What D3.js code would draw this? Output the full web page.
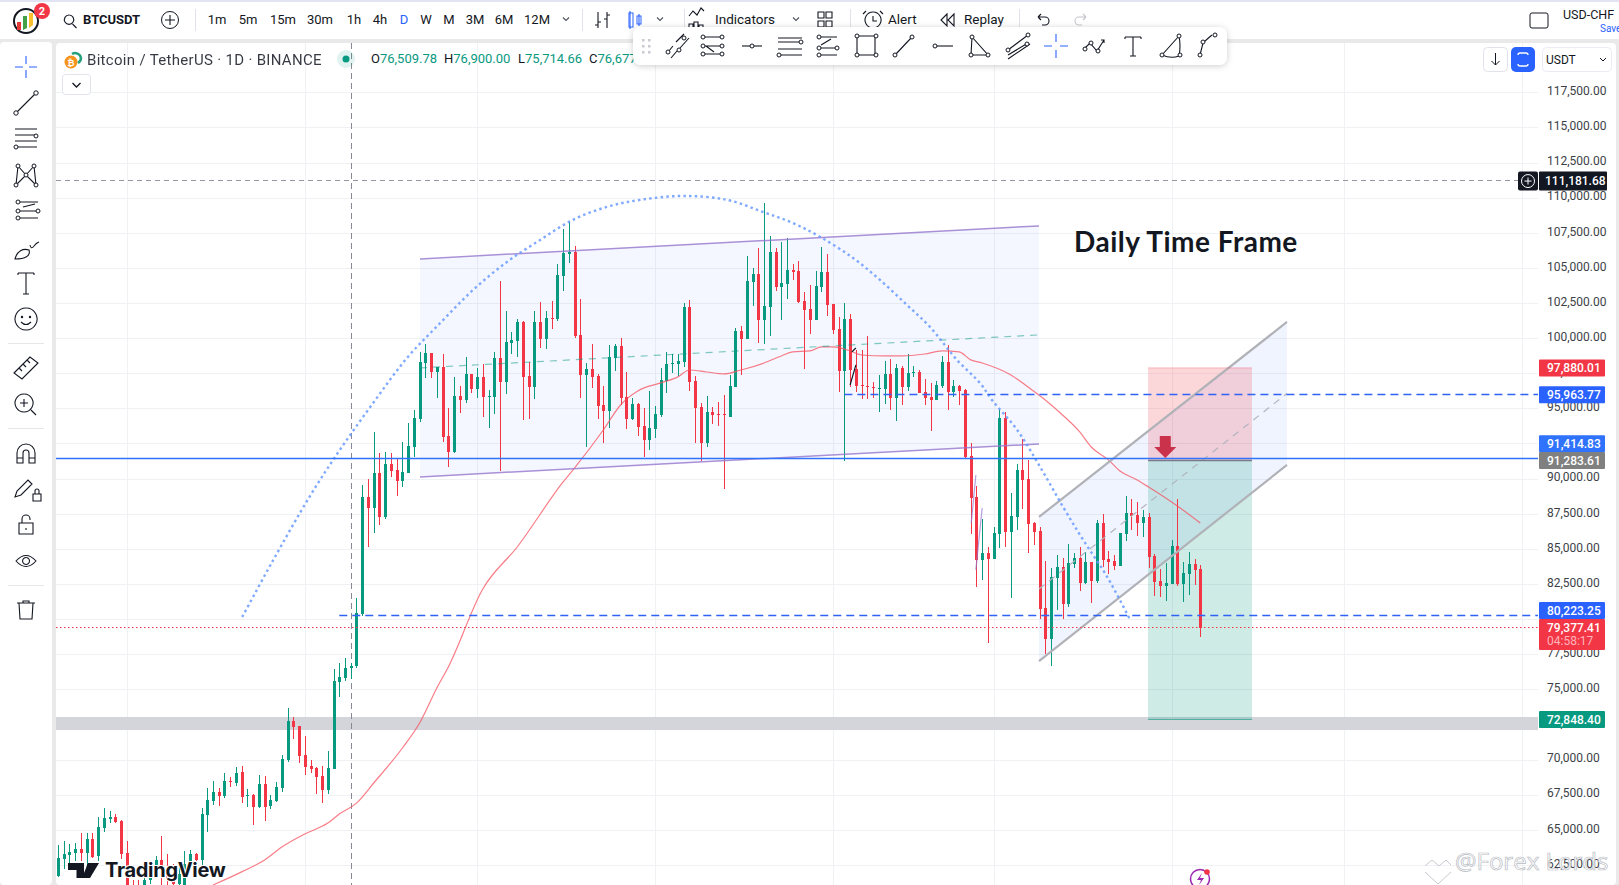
<!DOCTYPE html>
<html>
<head>
<meta charset="utf-8">
<script src="https://cdn.jsdelivr.net/npm/d3@7/dist/d3.min.js"></script>
<style>
html, body { margin: 0; padding: 0; background: #fff; overflow: hidden; }
text { font-family: Roboto, "Open Sans", sans-serif; }
</style>
</head>
<body>
<svg id="chart" width="1619" height="885"></svg>
<script>
// daily candles, bar 0 is 19 Sep 2024
var opens = [61710,62920,63200,63340,63630,63340,64340,63130,65120,65770,
65910,65620,63340,60500,60570,60570,61420,62130,62840,62280,
61570,61140,61070,62560,63270,62840,66050,67050,67690,67400,
68470,68330,69110,67400,67470,66620,68260,66690,67050,67970,
69970,72740,72390,70320,69540,69400,68830,67830,69320,75520,
75800,76510,76660,80360,88690,87910,90400,87270,91040,90610,
89830,90400,92250,94240,98230,98950,97590,97950,93030,91890,
95880,95600,97450,96380,97240,95810,95810,98590,96880,99660,
99800,101150,97310,96520,101150,99940,101440,101370,104430,105990,
106140,100220,97380,97810,97310,95240,94820,98590,99440,95810,
94240,95310,93750,92750,93530,94530,96950,98160,98160,98300,
102220,96950,95100,92540,94740,94600,94600,94390,96520,100510,
99940,104000,104570,101290,102220,106140,103640,103860,104850,104780,
102650,102080,101290,103640,104710,102430,100650,97660,101370,97810,
96670,96600,96520,96380,96380,97450,95740,97880,96520,97520,
97590,96170,95810,95600,96600,98300,96170,96600,96310,91610,
88690,84210,84710,84280,86060,94320,86200,87270,90610,89970,
86840,86270,80790,78580,82920,83710,81070,83920,84350,82570,
84060,82710,86840,84280,84130,83780,86060,87550,87410,86840,
87270,84490,82710,82350,82500,85200,82500,83210,83920,83570];
var highs = [63910,64200,63990,64060,64770,64770,64770,65910,66550,66340,
66120,65690,64200,61420,61420,61780,62420,63130,64560,63270,
62560,62280,63490,63560,63340,66550,67970,68470,67970,69040,
68750,69470,69540,67900,67540,68900,68830,67470,68400,70320,
73670,73030,72390,71680,69970,69470,69540,70610,76450,76870,
77230,76900,81500,89550,89970,93320,91820,91890,91820,91470,
92610,93960,94890,99020,99590,98950,97950,98870,95030,97240,
96600,98660,97450,97880,98160,96310,99020,104070,101930,100440,
101370,101220,98300,101930,102580,101930,102650,105280,107770,108340,
106560,102790,98230,99590,97450,96600,99510,99590,100010,97590,
95740,95380,95030,96240,95170,97880,99020,98870,98870,102500,
102720,97310,95380,95880,95100,95460,95950,97380,100720,100870,
105850,105000,106420,109630,107280,106420,106850,107130,105280,105500,
103290,103790,104780,106490,105990,102430,101510,102500,101720,99160,
99160,100150,96880,97380,98380,98520,98160,98020,98870,98020,
97730,97090,96810,96950,98730,99510,97020,96670,96380,92540,
89480,87130,85130,86560,94960,94740,88980,91040,92820,91330,
86910,86560,84130,83640,84560,84350,85350,84710,85130,84780,
84060,87050,87480,84850,84560,86130,88760,88550,88340,87770,
87550,84630,83570,83990,85630,88550,84060,84780,84280,83850];
var lows = [61640,62200,62490,62770,62770,62490,62990,62770,64840,65480,
65480,62920,59640,59640,59640,60000,61140,61990,61070,61070,
60710,60850,60710,62130,62770,62490,64840,66760,66690,67260,
68040,68110,66900,66620,65340,66550,65620,66480,66980,67690,
69820,71460,69750,68900,69040,67540,66900,67540,69320,74450,
75590,75715,76520,80220,85130,86130,86700,87130,90120,88760,
89400,90400,91540,94030,97160,97160,95740,92610,90830,91820,
94670,95380,96100,95740,94390,93600,94600,90540,96030,98870,
98660,94170,94240,95670,99300,99230,100650,101220,103360,105350,
100010,95740,92250,96450,94240,92540,93600,97660,95240,93530,
94170,93030,91540,92040,92890,94390,96100,97520,97310,97950,
96240,92540,91260,92250,93890,93750,89260,94390,96520,97380,
99940,102290,99660,99590,100150,103360,101290,102790,104140,102500,
97810,100300,101290,103290,101580,100300,96170,91260,96520,96170,
95670,95670,95740,94740,95310,94890,94100,95240,96240,97240,
96100,95240,93390,95600,96450,94890,95810,95240,91400,86060,
82280,82780,78300,84280,85060,85130,81500,86340,87840,84710,
85280,80010,77520,76660,80650,80010,80860,83640,82000,82500,
81150,82570,83710,83210,83490,83780,85560,86340,85920,85850,
83640,81640,81570,81290,82500,82350,81220,81710,82430,78720];
var closes = [62990,63270,63410,63630,63340,64340,63060,65200,65840,65910,
65550,63270,60500,60210,60280,61420,62130,62840,62130,61570,
61140,61850,62560,63270,62840,66120,67120,67690,67400,68470,
68400,69040,67330,67470,66620,68260,66620,67120,68040,70040,
72740,72310,70250,69470,69320,68750,67830,69400,75590,75880,
76520,76677,80430,88690,87910,90400,87270,91040,90540,89830,
90470,92320,94320,98300,98950,97590,97950,92960,91890,95880,
95600,97450,96380,97240,95810,95880,98590,96880,99730,99870,
101150,97240,96520,101150,99940,101440,101370,104500,106070,106140,
100150,97380,97810,97240,95170,94820,98660,99440,95740,94240,
95310,93670,92750,93600,94600,97020,98160,98230,98380,102220,
96880,95030,92540,94740,94530,94530,94530,96600,100510,99940,
104070,104570,101290,102290,106140,103640,103930,104850,104710,102580,
102010,101290,103720,104710,102360,100580,97660,101370,97730,96600,
96600,96520,96450,96450,97450,95740,97880,96520,97520,97590,
96100,95740,95600,96670,98300,96170,96600,96240,91540,88620,
84210,84710,84280,86130,94320,86200,87340,90610,89900,86770,
86200,80720,78580,82990,83710,81070,83990,84350,82570,84060,
82710,86840,84210,84060,83780,86130,87550,87340,86840,87270,
84420,82640,82350,82570,85200,82500,83280,83920,83490,79377];

// moving average, sampled where it bends
var maBars = [27,32,36,39,43,47,49,52,55,60,63,66,68,74,80,88,90,95,98,101,105,108,110,113,116,119,123,126,128,131,133,135,138,140,144,147,151,154,157,159,161,166,169,172,175,178,180,183,185,188,190,195,199];
var maValues = [61070,62000,62850,63770,64700,65480,66120,66900,68330,70820,72600,75090,76590,82140,85130,89760,90760,93460,95240,96240,96810,97240,97730,97590,97450,97730,98230,98730,99020,99090,99370,99370,99090,98800,98730,98730,98870,99090,99020,98450,98230,97380,96520,95600,94530,93320,92250,91330,90540,89900,89400,88050,86840];

// dotted arc
var arcBars = [32.1,37.3,43.9,49.1,54.9,60.8,66.6,72.3,78.2,84,89.7,95.6,101.4,108.9,116.6,122.8,128,132.8,138.5,143.2,147.9,151.9,156.6,160.6,162.7,167.1,171.1,175.1,178.6,182.8,186.8];
var arcPrices = [80150,84060,88760,92040,95380,98590,101080,103430,105420,106990,108420,109340,109840,110120,109840,108980,108200,107200,105710,104140,102360,100800,98450,96810,95600,93460,90830,87980,85630,82990,79930];

var priceTicks = d3.range(62500, 117501, 2500);
var monthBars = [12,43,73,104,135,163,194,224,255];

// channels, [bar, price, bar, price]
var purpleTop = [63.07,105640,170.9,107990];
var purpleMid = [63.07,97880,170.9,100230];
var purpleBottom = [63.07,90120,170.9,92465];
var grayTop = [170.9,87270,214.1,101150];
var grayMid = [170.9,82140,214.1,96060];
var grayBottom = [170.9,77010,214.1,90970];
var blackBits = [[138.3,99020,139,99300],[138,96670,139,98090]];
var purpleBits = [[159.9,90260,159.1,86840],[161,87910,159.9,83500]];

// short position tool
var posBars = [189.9,208];
var posEntry = 91283.61, posStop = 97880.01, posTarget = 72848.40;
var zonePrices = [73030,72100];
var crossBar = 51;

var priceTags = [
  {t:"97,880.01", p:97880.01, c:"#f23645"},
  {t:"95,963.77", p:95963.77, c:"#2962ff"},
  {t:"91,414.83", p:91414.83, c:"#2f72fb", dy:-15},
  {t:"91,283.61", p:91283.61, c:"#808080"},
  {t:"80,223.25", p:80223.25, c:"#2962ff", dy:-5.5},
  {t:"72,848.40", p:72848.40, c:"#089981"}
];

var green = "#089981", red = "#f23645", blue = "#2962ff", ink = "#131722";
var svg = d3.select("#chart");
var x = d3.scaleLinear().domain([0,199]).range([58,1200.3]);
var y = d3.scaleLinear().domain([75000,117500]).range([689.3,92.3]);
var fmt = d3.format(",.2f");

svg.append("rect").attr("width",1619).attr("height",885).attr("fill","#e9e9ea");
svg.append("rect").attr("width",1619).attr("height",2).attr("fill","#e3e4f3");
svg.append("rect").attr("y",2).attr("width",1619).attr("height",37).attr("fill","#fff");
svg.append("rect").attr("y",42).attr("width",52).attr("height",843).attr("rx",4).attr("fill","#fff");
svg.append("rect").attr("x",56).attr("y",43).attr("width",1560).attr("height",842).attr("rx",4).attr("fill","#fff");

svg.append("defs").append("clipPath").attr("id","pane")
  .append("rect").attr("x",56).attr("y",43).attr("width",1482).attr("height",842);
var pane = svg.append("g").attr("clip-path","url(#pane)");

// grid
pane.selectAll(".hg").data(priceTicks).enter().append("line")
  .attr("x1",56).attr("x2",1538)
  .attr("y1",function(d){return Math.round(y(d))+0.5;}).attr("y2",function(d){return Math.round(y(d))+0.5;})
  .attr("stroke","#f0f1f4");
pane.selectAll(".vg").data(monthBars).enter().append("line")
  .attr("y1",43).attr("y2",885)
  .attr("x1",function(d){return Math.round(x(d))+0.5;}).attr("x2",function(d){return Math.round(x(d))+0.5;})
  .attr("stroke","#f0f1f4");

function hline(p, from, color, dash, w) {
  pane.append("line").attr("x1",from === null ? 56 : x(from)).attr("x2",1538)
    .attr("y1",Math.round(y(p))-0.5).attr("y2",Math.round(y(p))-0.5)
    .attr("stroke",color).attr("stroke-width",w||1).attr("stroke-dasharray",dash);
}
function channelFill(a, b, color, op) {
  var pts = [[x(a[0]),y(a[1])],[x(a[2]),y(a[3])],[x(b[2]),y(b[3])],[x(b[0]),y(b[1])]];
  pane.append("polygon").attr("points",pts.join(" ")).attr("fill",color).attr("fill-opacity",op);
}
function seg(s, color, w, dash, op) {
  pane.append("line").attr("x1",x(s[0])).attr("y1",y(s[1])).attr("x2",x(s[2])).attr("y2",y(s[3]))
    .attr("stroke",color).attr("stroke-width",w).attr("stroke-dasharray",dash||null).attr("stroke-opacity",op||1);
}

// fills go under the candles
channelFill(purpleTop,purpleBottom,blue,0.05);
channelFill(grayTop,grayBottom,blue,0.07);
pane.append("rect").attr("x",56).attr("width",1482)
  .attr("y",y(zonePrices[0])).attr("height",y(zonePrices[1])-y(zonePrices[0]))
  .attr("fill","#d3d5da");
pane.append("rect").attr("x",x(posBars[0])).attr("width",x(posBars[1])-x(posBars[0]))
  .attr("y",y(posStop)).attr("height",y(posEntry)-y(posStop)).attr("fill",red).attr("fill-opacity",0.2);
pane.append("rect").attr("x",x(posBars[0])).attr("width",x(posBars[1])-x(posBars[0]))
  .attr("y",y(posEntry)).attr("height",y(posTarget)-y(posEntry)).attr("fill",green).attr("fill-opacity",0.2);

// crosshair
pane.append("line").attr("x1",Math.round(x(crossBar))+0.5).attr("x2",Math.round(x(crossBar))+0.5)
  .attr("y1",43).attr("y2",885).attr("stroke","#868993").attr("stroke-dasharray","6 4");

// candles
var candles = pane.append("g").selectAll("g").data(d3.range(opens.length)).enter().append("g")
  .attr("fill",function(i){return closes[i] >= opens[i] ? green : red;})
  .attr("shape-rendering","crispEdges");
candles.append("rect")
  .attr("x",function(i){return Math.round(x(i));}).attr("width",1)
  .attr("y",function(i){return y(highs[i]);})
  .attr("height",function(i){return y(lows[i])-y(highs[i]);});
candles.append("rect")
  .attr("x",function(i){return Math.round(x(i))-1;}).attr("width",3)
  .attr("y",function(i){return y(Math.max(opens[i],closes[i]));})
  .attr("height",function(i){return Math.max(1,Math.abs(y(opens[i])-y(closes[i])));});

// moving average
pane.append("path").attr("fill","none").attr("stroke","#f7525f").attr("stroke-opacity",0.75).attr("stroke-width",1.2)
  .attr("d",d3.line().x(function(d){return x(d);}).y(function(d,i){return y(maValues[i]);}).curve(d3.curveMonotoneX)(maBars));

// channels
seg(purpleTop,"#9575cd",1.5,null,0.8);
seg(purpleBottom,"#9575cd",1.5,null,0.8);
seg(purpleMid,green,1.2,"7 6",0.5);
seg(grayTop,"#b0b2b8",2.2);
seg(grayBottom,"#b0b2b8",2.2);
seg(grayMid,"#b2b5be",1.2,"7 6");
blackBits.forEach(function(s){seg(s,ink,1.2);});
purpleBits.forEach(function(s){seg(s,"#9575cd",1.2,null,0.7);});

// arc
pane.append("path").attr("fill","none").attr("stroke","#6a9bff").attr("stroke-opacity",0.85).attr("stroke-width",2.4)
  .attr("stroke-dasharray","2.5 3.2")
  .attr("d",d3.line().x(function(d){return x(d);}).y(function(d,i){return y(arcPrices[i]);}).curve(d3.curveCatmullRom)(arcBars));

// horizontal levels
hline(111181.68,null,"#9598a1","5 4");
hline(91414.83,null,"#2f72fb",null,1.4);
hline(95963.77,137,"#2f62f5","8 5",1.4);
hline(80223.25,49,"#2f62f5","8 5",1.4);
hline(79377.41,null,red,"1.5 2.5");

// position tool lines and arrow
pane.append("line").attr("x1",x(posBars[0])).attr("x2",x(posBars[1]))
  .attr("y1",y(posEntry)).attr("y2",y(posEntry)).attr("stroke","#787b86").attr("stroke-width",1.5);
pane.append("line").attr("x1",x(posBars[0])).attr("x2",x(posBars[1]))
  .attr("y1",y(posStop)).attr("y2",y(posStop)).attr("stroke",red).attr("stroke-opacity",0.3);
pane.append("line").attr("x1",x(posBars[0])).attr("x2",x(posBars[1]))
  .attr("y1",y(posTarget)).attr("y2",y(posTarget)).attr("stroke",green).attr("stroke-opacity",0.6);
var ax = x(192.9), ay = y(posEntry)-2.5;
pane.append("path").attr("fill","#c9324a")
  .attr("d","M"+ax+","+ay+"l-11,-11h5.5v-11h11v11h5.5z");

// headline
svg.append("text").attr("x",1074).attr("y",252).attr("fill",ink)
  .attr("font-size",28).attr("font-weight",700).style("font-family","Lato").style("letter-spacing","0.5px")
  .text("Daily Time Frame");

// price axis
var axis = svg.append("g").attr("transform","translate(1547,-1.5)")
  .call(d3.axisRight(y).tickValues(priceTicks).tickSize(0).tickPadding(0).tickFormat(fmt));
axis.select(".domain").remove();
axis.selectAll("text").attr("fill","#3c3f48").attr("font-size",12).style("font-family","Roboto");

function tag(t, yc, color, h) {
  h = h || 17;
  svg.append("rect").attr("x",1539).attr("y",yc-h/2).attr("width",66).attr("height",h).attr("rx",1).attr("fill",color);
  svg.append("text").attr("x",1547).attr("y",yc+4.3).attr("fill","#fff").attr("font-size",12).attr("font-weight",500).text(t);
}
priceTags.forEach(function(d){ tag(d.t,y(d.p)+(d.dy||0),d.c); });

// last price tag has the countdown under it
var lastY = 619;
svg.append("rect").attr("x",1539).attr("y",lastY).attr("width",66).attr("height",31).attr("rx",1).attr("fill",red);
svg.append("text").attr("x",1547).attr("y",lastY+12.5).attr("fill","#fff").attr("font-size",12).attr("font-weight",500).text("79,377.41");
svg.append("text").attr("x",1547).attr("y",lastY+26).attr("fill","#ffb3ba").attr("font-size",12).text("04:58:17");

// crosshair price tag with the plus button
var cy = y(111181.68);
svg.append("rect").attr("x",1518).attr("y",cy-9.5).attr("width",20).attr("height",19).attr("rx",2).attr("fill",ink);
svg.append("circle").attr("cx",1528).attr("cy",cy).attr("r",6.5).attr("fill","none").attr("stroke","#fff");
svg.append("path").attr("d","M1524.5,"+cy+"h7M1528,"+(cy-3.5)+"v7").attr("stroke","#fff");
svg.append("rect").attr("x",1539).attr("y",cy-9.5).attr("width",68).attr("height",19).attr("rx",1).attr("fill",ink);
svg.append("text").attr("x",1545).attr("y",cy+4.3).attr("fill","#fff").attr("font-size",12).attr("font-weight",500).text("111,181.68");

// legend line
svg.append("circle").attr("cx",71).attr("cy",62).attr("r",6.5).attr("fill","#f7931a");
svg.append("text").attr("x",71).attr("y",65.5).attr("text-anchor","middle").attr("fill","#fff").attr("font-size",9).attr("font-weight",700).text("\u20bf");
svg.append("path").attr("d","M72,54a6,6 0 0 1 9,4a6,6 0 0 1 -3,5").attr("fill","none").attr("stroke","#26a17b").attr("stroke-width",2.5);
svg.append("text").attr("x",87).attr("y",65).attr("fill",ink).attr("font-size",15).attr("opacity",0.85).style("letter-spacing","0.31px").text("Bitcoin / TetherUS \u00b7 1D \u00b7 BINANCE");
svg.append("circle").attr("cx",346).attr("cy",59).attr("r",9).attr("fill",green).attr("fill-opacity",0.12);
svg.append("circle").attr("cx",346).attr("cy",59).attr("r",3.5).attr("fill",green);
var legendX = [371,444,518,589], legendKeys = ["O","H","L","C"], legendVals = ["76,509.78","76,900.00","75,714.66","76,677"];
legendKeys.forEach(function(k,i){
  var t = svg.append("text").attr("x",legendX[i]).attr("y",63).attr("font-size",13);
  t.append("tspan").attr("fill",ink).text(k);
  t.append("tspan").attr("fill",green).text(legendVals[i]);
});
svg.append("rect").attr("x",62.5).attr("y",74.5).attr("width",28).attr("height",20).attr("rx",3).attr("fill","#fff").attr("stroke","#e0e3eb");
svg.append("path").attr("d","M72.5,83l4,4l4,-4").attr("fill","none").attr("stroke",ink).attr("stroke-width",1.3);

// right side controls
svg.append("rect").attr("x",1483.5).attr("y",47.5).attr("width",24).attr("height",24).attr("rx",4).attr("fill","#fff").attr("stroke","#e0e3eb");
svg.append("path").attr("d","M1495.5,53v12M1491.5,61l4,4l4,-4").attr("fill","none").attr("stroke",ink);
svg.append("rect").attr("x",1511).attr("y",47).attr("width",24).attr("height",25).attr("rx",5).attr("fill",blue);
svg.append("path").attr("d","M1518,55a2,2 0 0 1 2,-2h6a2,2 0 0 1 2,2M1518,64a2,2 0 0 0 2,2h6a2,2 0 0 0 2,-2").attr("fill","none").attr("stroke","#fff").attr("stroke-width",1.3);
svg.append("rect").attr("x",1542.5).attr("y",47.5).attr("width",69).attr("height",24).attr("rx",4).attr("fill","#fff").attr("stroke","#e9ecf2");
svg.append("text").attr("x",1546).attr("y",64).attr("fill",ink).attr("font-size",12).text("USDT");
svg.append("path").attr("d","M1600,58l3,3l3,-3").attr("fill","none").attr("stroke",ink);

// TradingView mark
var mark = svg.append("g").attr("fill","#131722");
mark.append("path").attr("d","M68,863h16v15h-7.5v-8h-8.5z");
mark.append("circle").attr("cx",90).attr("cy",866.5).attr("r",3.2);
mark.append("path").attr("d","M90,878h-8l6,-15h0h11z");
svg.append("text").attr("x",105).attr("y",877).attr("fill","#131722").attr("font-size",20).attr("font-weight",700)
  .attr("stroke","#fff").attr("stroke-width",2).attr("paint-order","stroke").style("font-family","Inter").style("letter-spacing","-0.3px").text("TradingView");

// watermark and lightning badge
svg.append("path").attr("d","M1425,866l7,-6l7,6l7,-6l5,5M1425,872l13,12l13,-12").attr("fill","none").attr("stroke","#c9cbd1");
svg.append("text").attr("x",1455).attr("y",870).attr("font-size",24).attr("fill","#fff").attr("fill-opacity",0.8)
  .attr("stroke","#b9bcc4").attr("stroke-width",0.7).style("font-family","'Open Sans'").text("@Forex Lords");
svg.append("circle").attr("cx",1200).attr("cy",879).attr("r",9.5).attr("fill","#fff").attr("stroke","#9c27b0").attr("stroke-width",1.5);
svg.append("path").attr("d","M1202,873l-5,7h4l-2,5l5,-7h-4z").attr("fill","#9c27b0");
svg.append("circle").attr("cx",1207).attr("cy",872).attr("r",2.8).attr("fill",red);

// top bar -------------------------------------------------------------------
var topY = 24;
var frames = [["1m",217],["5m",248],["15m",283],["30m",320],["1h",354],["4h",380],["D",404],["W",426],["M",449],["3M",475],["6M",504],["12M",537]];
var topbar = svg.append("g");
frames.forEach(function(f){
  topbar.append("text").attr("x",f[1]).attr("y",topY).attr("text-anchor","middle").attr("font-size",13)
    .attr("fill",f[0]==="D" ? blue : ink).text(f[0]);
});
topbar.append("text").attr("x",83).attr("y",topY).attr("font-size",13).attr("font-weight",700).attr("fill",ink).text("BTCUSDT");
topbar.append("text").attr("x",715).attr("y",topY).attr("font-size",13.5).attr("fill",ink).text("Indicators");
topbar.append("text").attr("x",888).attr("y",topY).attr("font-size",13.5).attr("fill",ink).text("Alert");
topbar.append("text").attr("x",964).attr("y",topY).attr("font-size",13.5).attr("fill",ink).text("Replay");
topbar.append("text").attr("x",1563).attr("y",19).attr("font-size",12.5).attr("fill",ink).text("USD-CHF");
topbar.append("text").attr("x",1600).attr("y",32).attr("font-size",10).attr("fill",blue).text("Save");

function draw(g, cx, cy, d, color) {
  g.append("path").attr("transform","translate("+cx+","+cy+")").attr("d",d).attr("fill","none")
    .attr("stroke",color||ink).attr("stroke-width",1.1);
}
function dot(g, cx, cy, r) {
  g.append("circle").attr("cx",cx).attr("cy",cy).attr("r",r||2).attr("fill","#fff").attr("stroke",ink);
}
// logo
topbar.append("circle").attr("cx",26).attr("cy",21).attr("r",12).attr("fill","none").attr("stroke","#131722").attr("stroke-width",2);
topbar.append("path").attr("d","M17,28v-6h4v8h-4z").attr("fill","#e53935");
topbar.append("path").attr("d","M23,30v-14h4v12z").attr("fill","#43a047");
topbar.append("path").attr("d","M29,28v-15h4v12z").attr("fill","#fbc02d");
topbar.append("circle").attr("cx",42).attr("cy",11).attr("r",8).attr("fill","#f23645");
topbar.append("text").attr("x",42).attr("y",15).attr("text-anchor","middle").attr("fill","#fff").attr("font-size",11).attr("font-weight",700).text("2");

draw(topbar,69,20,"M0,-5a4.7,4.7 0 1 0 0.1,0M3.5,4l4,4");
topbar.append("circle").attr("cx",170).attr("cy",20).attr("r",8.5).attr("fill","none").attr("stroke",ink);
draw(topbar,170,20,"M-5,0h10M0,-5v10");
draw(topbar,566,19,"M-3,-1.5l3,3l3,-3","#50535e");
draw(topbar,660,19,"M-3,-1.5l3,3l3,-3","#50535e");
draw(topbar,796,19,"M-3,-1.5l3,3l3,-3","#50535e");
draw(topbar,603,20,"M-5,-8v16M-5,5h-3M4,-8v16M4,-5h3M-5,2h3M4,-1h-3");
draw(topbar,634,20,"M-4,-9v18M5,-6v12","#2962ff");
topbar.append("rect").attr("x",629).attr("y",13).attr("width",4).attr("height",14).attr("fill","none").attr("stroke",blue);
topbar.append("rect").attr("x",637).attr("y",16).attr("width",4).attr("height",8).attr("fill","none").attr("stroke",blue);
draw(topbar,698,20,"M-9,-4l4,-5l4,4l4,-7l3,3M-9,9v-5h4v5M-4,9v-7h4v7M1,9v-4h4v4");
draw(topbar,825,20,"M-7,-8h6v6h-6zM1,-8h6v6h-6zM-7,1h6v6h-6zM1,1h6v6h-6z");
draw(topbar,873,20,"M0,-8a8,8 0 1 0 0.1,0M0,-4v5h4M-7,-9l-3,3M7,-9l3,3");
draw(topbar,946,20,"M1,-6l-6,6l6,6zM8,-6l-6,6l6,6z");
draw(topbar,1043,20,"M-5,-3h7a4,4 0 0 1 0,8h-3M-5,-3l3,-3M-5,-3l3,3");
draw(topbar,1081,20,"M5,-3h-7a4,4 0 0 0 0,8h3M5,-3l-3,-3M5,-3l-3,3","#c4c6cc");
topbar.append("rect").attr("x",1530).attr("y",13).attr("width",18).attr("height",15).attr("rx",2).attr("fill","none").attr("stroke",ink);
[195,582,684,850,1019].forEach(function(sx){
  topbar.append("line").attr("x1",sx+0.5).attr("x2",sx+0.5).attr("y1",9).attr("y2",31).attr("stroke","#e0e3eb");
});

// floating drawing toolbar ---------------------------------------------------
svg.append("defs").append("filter").attr("id","shadow").attr("x","-5%").attr("y","-30%").attr("width","110%").attr("height","170%")
  .append("feDropShadow").attr("dx",0).attr("dy",1).attr("stdDeviation",3).attr("flood-color","#000").attr("flood-opacity",0.2);
svg.append("rect").attr("x",633).attr("y",27).attr("width",594).attr("height",38).attr("rx",8).attr("fill","#fff").attr("filter","url(#shadow)");
var bar = svg.append("g");
[39,45,51].forEach(function(gy){
  [642,648].forEach(function(gx){ bar.append("rect").attr("x",gx).attr("y",gy).attr("width",2.5).attr("height",2.5).attr("fill","#c9cbd2"); });
});
var barY = 46;
var barIcons = [
  [677,"M-9,6l5,-6M-1,-4l8,-8M-6,12l6,-7M3,2l9,-10"],
  [712,"M-9,-9h18M-9,0h18M-9,8h18M-6,0l8,6"],
  [752,"M-10,0h20"],
  [790,"M-12,-8h24M-12,-4h24M-12,3h24M-12,9h24"],
  [827,"M-8,-9h18M-8,2h18M-8,9h18M-6,-1l10,-6"],
  [866,"M-9,-10h18v19h-18z"],
  [904,"M-9,9l17,-18"],
  [943,"M-8,0h18"],
  [980,"M-8,-9l-1,18h17z"],
  [1018,"M-10,4l20,-15M-10,9l20,-12M-10,13l22,-15"],
  [1094,"M-10,3l6,-6l7,8l7,-11M7,-6h3v3"],
  [1133,"M-8,-9h16M0,-9v19M-3,10h6M-8,-9v2M8,-9v2"],
  [1171,"M8,-10l-17,19q9,4 17,1q2,-10 0,-20"],
  [1209,"M-9,9l3,-12q3,-3 9,-8"]
];
barIcons.forEach(function(ic){ draw(bar,ic[0],barY,ic[1]); });
[[668,52],[679,50],[684,38],[703,37],[722,37],[703,46],[722,46],[703,54],[722,54],[752,46],[801,42],[779,55],[819,37],[819,48],[819,55],[837,48],[857,36],[876,36],[857,55],[876,55],[895,55],[912,37],[935,46],[972,37],[971,55],[988,55],[1028,35],[1008,50],[1027,44],[1085,49],[1091,43],[1098,51],[1179,36],[1162,55],[1180,55],[1200,55],[1203,42],[1215,35]].forEach(function(c){
  dot(bar,c[0],c[1],2);
});
draw(bar,1056,46,"M0,-12v8M0,4v8M-12,0h8M4,0h8",blue);

// left toolbar ---------------------------------------------------------------
var side = svg.append("g");
draw(side,26,67,"M0,-11v8M0,3v8M-11,0h8M3,0h8",blue);
draw(side,26,103,"M-10,10l20,-20");
dot(side,16,113,2.2); dot(side,36,93,2.2);
draw(side,26,138,"M-11,-9h22M-11,-3h22M-11,3h22M-11,9h22");
dot(side,36,136,2); dot(side,16,147,2);
draw(side,26,175,"M-8,-9l8,9l8,-9M-10,10l10,-10l10,10M-8,-9l-2,19M8,-9l2,19");
dot(side,18,166,2); dot(side,34,166,2); dot(side,16,185,2); dot(side,36,185,2); dot(side,26,175,2);
draw(side,26,210,"M-8,-8h20M-8,1h20M-8,8h20M-3,-3l12,-3");
dot(side,18,202,2); dot(side,18,211,2); dot(side,18,218,2); dot(side,38,211,2);
draw(side,26,248,"M-11,11c2,-8 8,-11 14,-9c2,6 -4,9 -14,9zM4,-3q1,5 4,1q2,-3 5,-4");
draw(side,26,283,"M-8,-10h16M0,-10v21M-3,11h6M-8,-10v2M8,-10v2");
draw(side,26,319,"M0,-11a11,11 0 1 0 0.1,0M-5,3q5,5 10,0");
side.append("circle").attr("cx",22).attr("cy",317).attr("r",1.2).attr("fill",ink);
side.append("circle").attr("cx",30).attr("cy",317).attr("r",1.2).attr("fill",ink);
draw(side,26,367,"M-12,6l16,-16l8,6l-16,16zM-7,1l3,3M-3,-3l3,3M1,-7l3,3");
draw(side,24,403,"M0,-9a9,9 0 1 0 0.1,0M-4,0h8M0,-4v8M7,7l5,5");
draw(side,26,452,"M-9,11v-10a9,9 0 0 1 18,0v10h-6v-10a3,3 0 0 0 -6,0v10zM-9,6h6M3,6h6");
draw(side,24,488,"M-9,9l2,-6l11,-11l4,4l-11,11zM9,6h8v7h-8zM11,6v-3a2,2 0 0 1 4,0v3");
draw(side,26,525,"M-7,-2h14v11h-14zM-4,-2v-4a4,4 0 0 1 8,0v1M0,3v2");
draw(side,26,561,"M-10,0q10,-11 20,0q-10,11 -20,0zM0,-3.5a3.5,3.5 0 1 0 0.1,0");
draw(side,26,610,"M-9,-7h18M-7,-7l1,16h12l1,-16M-3,-7v-2h6v2");
[343,428,585].forEach(function(sy){
  side.append("line").attr("x1",8).attr("x2",44).attr("y1",sy+0.5).attr("y2",sy+0.5).attr("stroke","#e6e7ea");
});
</script>
</body>
</html>
